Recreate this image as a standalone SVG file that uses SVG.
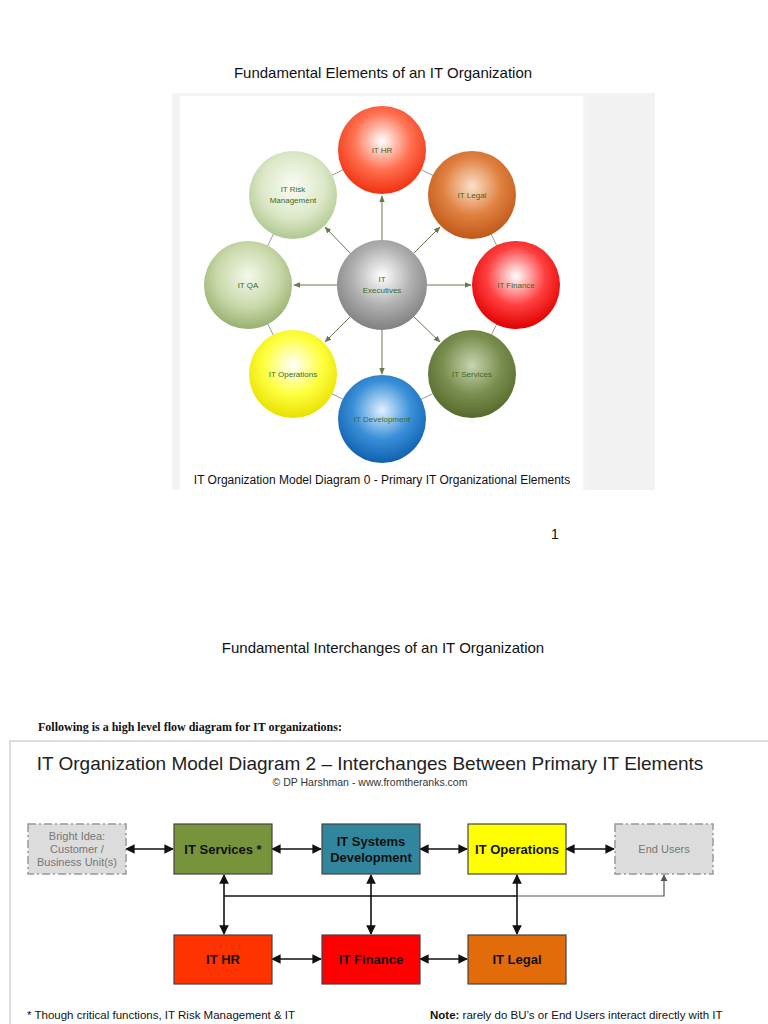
<svg xmlns="http://www.w3.org/2000/svg" width="768" height="1024" viewBox="0 0 768 1024">
<style>
.t{font-family:"Liberation Sans",Arial,sans-serif}
.cl{font-family:"Liberation Sans",Arial,sans-serif;font-size:8px;fill:#3a6a2a;text-anchor:middle}
.ring{fill:none;stroke:#999;stroke-width:1}
.sp{stroke:#6a7a50;stroke-width:1;fill:none;marker-end:url(#ga)}
.bx{stroke:#444;stroke-width:1.2}
.bl{font-family:"Liberation Sans",Arial,sans-serif;font-size:13px;font-weight:bold;text-anchor:middle;fill:#111}
.dash{fill:#dcdcdc;stroke:#999;stroke-width:1.5;stroke-dasharray:8 3 2 3}
.gl{font-family:"Liberation Sans",Arial,sans-serif;font-size:11px;text-anchor:middle;fill:#777}
.ln{stroke:#111;stroke-width:1.6;fill:none}
</style>
<defs>
<marker id="ga" viewBox="0 0 10 10" refX="9" refY="5" markerWidth="7" markerHeight="7" orient="auto"><path d="M0,1 L10,5 L0,9z" fill="#6a7a50"/></marker>
<marker id="ba" viewBox="0 0 10 10" refX="9" refY="5" markerWidth="6" markerHeight="6" orient="auto-start-reverse"><path d="M0,0 L10,5 L0,10z" fill="#111"/></marker>
<marker id="gy" viewBox="0 0 10 10" refX="9" refY="5" markerWidth="6" markerHeight="6" orient="auto"><path d="M0,0 L10,5 L0,10z" fill="#555"/></marker>
<radialGradient id="gHR" cx="0.5" cy="0.4" r="0.6"><stop offset="0" stop-color="#fff"/><stop offset="0.55" stop-color="#ff7050"/><stop offset="1" stop-color="#f03010"/></radialGradient>
<radialGradient id="gLe" cx="0.5" cy="0.4" r="0.6"><stop offset="0" stop-color="#fbe0c8"/><stop offset="0.55" stop-color="#e08040"/><stop offset="1" stop-color="#c05818"/></radialGradient>
<radialGradient id="gFi" cx="0.5" cy="0.4" r="0.6"><stop offset="0" stop-color="#fff"/><stop offset="0.55" stop-color="#ff4040"/><stop offset="1" stop-color="#e00000"/></radialGradient>
<radialGradient id="gSe" cx="0.5" cy="0.4" r="0.6"><stop offset="0" stop-color="#c8d4b0"/><stop offset="0.55" stop-color="#7a9050"/><stop offset="1" stop-color="#566a2c"/></radialGradient>
<radialGradient id="gDe" cx="0.5" cy="0.4" r="0.6"><stop offset="0" stop-color="#e0f0ff"/><stop offset="0.55" stop-color="#3a90d8"/><stop offset="1" stop-color="#1060b0"/></radialGradient>
<radialGradient id="gOp" cx="0.5" cy="0.4" r="0.6"><stop offset="0" stop-color="#fff"/><stop offset="0.55" stop-color="#ffff40"/><stop offset="1" stop-color="#e8e000"/></radialGradient>
<radialGradient id="gQA" cx="0.5" cy="0.4" r="0.6"><stop offset="0" stop-color="#f4f8ec"/><stop offset="0.6" stop-color="#c8d8a8"/><stop offset="1" stop-color="#98b070"/></radialGradient>
<radialGradient id="gRi" cx="0.5" cy="0.4" r="0.6"><stop offset="0" stop-color="#fafcf4"/><stop offset="0.6" stop-color="#dce8c8"/><stop offset="1" stop-color="#b0c890"/></radialGradient>
<radialGradient id="gEx" cx="0.5" cy="0.4" r="0.6"><stop offset="0" stop-color="#fff"/><stop offset="0.55" stop-color="#b0b0b0"/><stop offset="1" stop-color="#808080"/></radialGradient>
</defs>
<rect width="768" height="1024" fill="#fff"/>
<text class="t" x="383" y="78" font-size="15" text-anchor="middle" fill="#111">Fundamental Elements of an IT Organization</text>
<rect x="172" y="93" width="415" height="397" fill="#f4f4f4"/>
<rect x="180" y="96" width="403" height="394" fill="#fff"/>
<rect x="587" y="93" width="68" height="397" fill="#f2f2f2"/>
<g id="ring">
<polygon class="ring" points="382,150 472,195 516,285 472,374 382,419 293,374 248,285 293,195"/>
</g>
<g id="spokes">
<line class="sp" x1="382" y1="240" x2="382" y2="196"/>
<line class="sp" x1="382" y1="330" x2="382" y2="374"/>
<line class="sp" x1="427" y1="285" x2="471" y2="285"/>
<line class="sp" x1="337" y1="285" x2="294" y2="285"/>
<line class="sp" x1="414" y1="253" x2="440" y2="227"/>
<line class="sp" x1="350" y1="253" x2="325" y2="227"/>
<line class="sp" x1="414" y1="317" x2="440" y2="342"/>
<line class="sp" x1="350" y1="317" x2="325" y2="342"/>
</g>
<g id="c-hr"><circle cx="382" cy="150" r="44" fill="url(#gHR)"/><text class="cl" x="382" y="153">IT HR</text></g>
<g id="c-legal"><circle cx="472" cy="195" r="44" fill="url(#gLe)"/><text class="cl" x="472" y="198">IT Legal</text></g>
<g id="c-fin"><circle cx="516" cy="285" r="44" fill="url(#gFi)"/><text class="cl" x="516" y="288">IT Finance</text></g>
<g id="c-svc"><circle cx="472" cy="374" r="44" fill="url(#gSe)"/><text class="cl" x="472" y="377">IT Services</text></g>
<g id="c-dev"><circle cx="382" cy="419" r="44" fill="url(#gDe)"/><text class="cl" x="382" y="422">IT Development</text></g>
<g id="c-ops"><circle cx="293" cy="374" r="44" fill="url(#gOp)"/><text class="cl" x="293" y="377">IT Operations</text></g>
<g id="c-qa"><circle cx="248" cy="285" r="44" fill="url(#gQA)"/><text class="cl" x="248" y="288">IT QA</text></g>
<g id="c-risk"><circle cx="293" cy="195" r="44" fill="url(#gRi)"/><text class="cl" x="293" y="192">IT Risk</text><text class="cl" x="293" y="203">Management</text></g>
<g id="c-exec"><circle cx="382" cy="285" r="45" fill="url(#gEx)"/><text class="cl" x="382" y="282">IT</text><text class="cl" x="382" y="293">Executives</text></g>
<text class="t" x="382" y="484" font-size="12" text-anchor="middle" fill="#111">IT Organization Model Diagram 0 - Primary IT Organizational Elements</text>
<text class="t" x="555" y="539" font-size="14" text-anchor="middle" fill="#111">1</text>
<text class="t" x="383" y="653" font-size="15" text-anchor="middle" fill="#111">Fundamental Interchanges of an IT Organization</text>
<text x="38" y="731" font-family="Liberation Serif,serif" font-size="12" font-weight="bold" fill="#111">Following is a high level flow diagram for IT organizations:</text>
<rect x="10" y="741" width="770" height="290" fill="#fff" stroke="#ddd" stroke-width="2"/>
<text class="t" x="370" y="770" font-size="19" text-anchor="middle" fill="#222">IT Organization Model Diagram 2 – Interchanges Between Primary IT Elements</text>
<text class="t" x="370" y="786" font-size="10.5" text-anchor="middle" fill="#333">© DP Harshman - www.fromtheranks.com</text>
<g id="conn">
<line class="ln" x1="126" y1="849" x2="173" y2="849" marker-start="url(#ba)" marker-end="url(#ba)"/>
<line class="ln" x1="272" y1="849" x2="321" y2="849" marker-start="url(#ba)" marker-end="url(#ba)"/>
<line class="ln" x1="420" y1="849" x2="467" y2="849" marker-start="url(#ba)" marker-end="url(#ba)"/>
<line class="ln" x1="566" y1="849" x2="614" y2="849" marker-start="url(#ba)" marker-end="url(#ba)"/>
<line class="ln" x1="272" y1="959" x2="321" y2="959" marker-start="url(#ba)" marker-end="url(#ba)"/>
<line class="ln" x1="420" y1="959" x2="467" y2="959" marker-start="url(#ba)" marker-end="url(#ba)"/>
<line class="ln" x1="224" y1="875" x2="224" y2="934" marker-start="url(#ba)" marker-end="url(#ba)"/>
<line class="ln" x1="371" y1="875" x2="371" y2="934" marker-start="url(#ba)" marker-end="url(#ba)"/>
<line class="ln" x1="517" y1="875" x2="517" y2="934" marker-start="url(#ba)" marker-end="url(#ba)"/>
<line class="ln" x1="224" y1="896" x2="517" y2="896"/>
<polyline points="517,896 664,896 664,875" fill="none" stroke="#555" stroke-width="1.2" marker-end="url(#gy)"/>
</g>
<g id="b-idea"><rect class="dash" x="28" y="824" width="98" height="50"/><text class="gl" x="77" y="840">Bright Idea:</text><text class="gl" x="77" y="853">Customer /</text><text class="gl" x="77" y="866">Business Unit(s)</text></g>
<g id="b-svc"><rect class="bx" x="174" y="824" width="98" height="50" fill="#77933c"/><text class="bl" x="223" y="854">IT Services *</text></g>
<g id="b-sys"><rect class="bx" x="322" y="824" width="98" height="50" fill="#31859c"/><text class="bl" x="371" y="846">IT Systems</text><text class="bl" x="371" y="862">Development</text></g>
<g id="b-ops"><rect class="bx" x="468" y="824" width="98" height="50" fill="#ffff00"/><text class="bl" x="517" y="854">IT Operations</text></g>
<g id="b-end"><rect class="dash" x="615" y="824" width="98" height="50"/><text class="gl" x="664" y="853">End Users</text></g>
<g id="b-hr"><rect class="bx" x="174" y="935" width="98" height="49" fill="#ff3300"/><text class="bl" x="223" y="964">IT HR</text></g>
<g id="b-fin"><rect class="bx" x="322" y="935" width="98" height="49" fill="#ff0000"/><text class="bl" x="371" y="964">IT Finance</text></g>
<g id="b-legal"><rect class="bx" x="468" y="935" width="98" height="49" fill="#e36c0a"/><text class="bl" x="517" y="964">IT Legal</text></g>
<text class="t" x="27" y="1019" font-size="11.5" fill="#111">* Though critical functions, IT Risk Management &amp; IT</text>
<text class="t" x="430" y="1019" font-size="11.5" fill="#111"><tspan font-weight="bold">Note:</tspan>  rarely do BU’s or End Users interact directly with IT</text>
</svg>
